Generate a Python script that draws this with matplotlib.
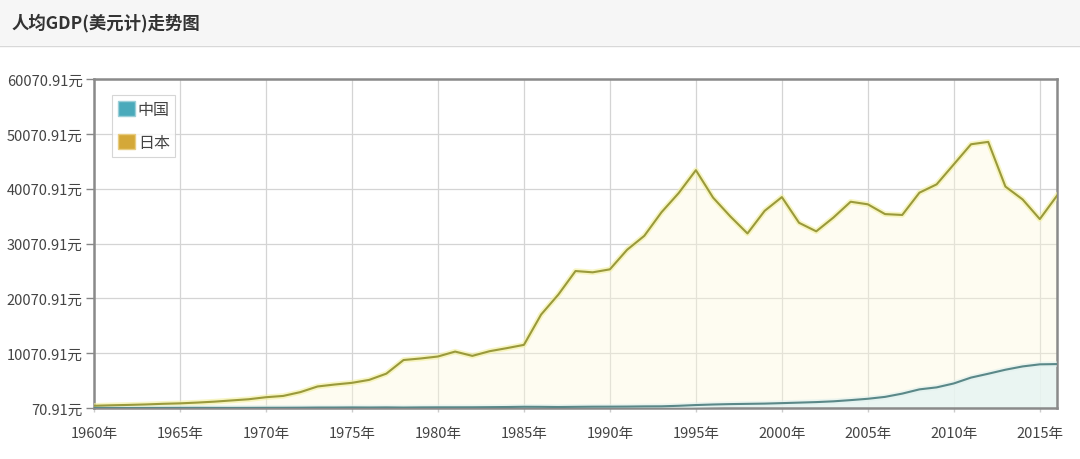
import matplotlib.pyplot as plt
from matplotlib.patches import Rectangle
from matplotlib.lines import Line2D

plt.rcParams['font.family'] = ['Noto Sans CJK SC', 'DejaVu Sans']

years = list(range(1960, 2017))

# GDP per capita, current US$
china = [89.5, 75.8, 70.9, 74.3, 85.5, 98.5, 104.3, 96.6, 91.5, 100.1,
         113.2, 118.7, 131.9, 157.1, 160.1, 178.3, 165.4, 185.4, 156.4, 183.9,
         194.8, 197.1, 203.3, 225.4, 250.7, 294.5, 281.9, 251.8, 283.5, 310.9,
         317.9, 333.1, 366.5, 377.4, 473.5, 609.7, 709.4, 781.7, 828.6, 873.3,
         959.4, 1053.1, 1148.5, 1288.6, 1508.7, 1753.4, 2099.2, 2694.0, 3468.3, 3832.2,
         4550.5, 5618.1, 6316.9, 7050.6, 7651.4, 8033.4, 8078.8]
japan = [479, 563, 633, 717, 835, 919, 1059, 1229, 1450, 1669,
         2037, 2272, 2967, 3997, 4354, 4659, 5198, 6335, 8821, 9105,
         9463, 10361, 9578, 10425, 10984, 11585, 17112, 20745, 25051, 24813,
         25359, 28925, 31465, 35766, 39269, 43440, 38437, 35022, 31903, 36027,
         38532, 33846, 32289, 34808, 37689, 37218, 35434, 35275, 39339, 40855,
         44508, 48168, 48603, 40454, 38109, 34524, 38794]

y_ticks = [70.91, 10070.91, 20070.91, 30070.91, 40070.91, 50070.91, 60070.91]
x_ticks = list(range(1960, 2016, 5))

title = '人均GDP(美元计)走势图'
series_names = ['中国', '日本']

fig = plt.figure(figsize=(10.8, 4.6), dpi=100)
fig.patch.set_facecolor('white')

# header band
fig.patches.append(Rectangle((0, 1 - 46 / 460), 1, 46 / 460, transform=fig.transFigure,
                             facecolor='#f6f6f6', edgecolor='none', zorder=0))
fig.lines.append(Line2D([0, 1], [1 - 47 / 460] * 2, transform=fig.transFigure,
                        color='#d8d8d8', lw=1))
fig.text(0.011, 1 - 23 / 460, title, fontsize=12.5, fontweight='bold', color='#333333',
         va='center', ha='left')

ax = fig.add_axes([94 / 1080, 1 - 409 / 460, (1057 - 94) / 1080, (409 - 80) / 460])
ax.set_facecolor('white')

base = y_ticks[0]
ax.fill_between(years, base, japan, color='#fdf9dc', alpha=0.4, lw=0, zorder=1)
ax.fill_between(years, base, china, color='#e6f4f3', alpha=0.8, lw=0, zorder=2)

ax.plot(years, japan, color='#f3ef9a', lw=4, alpha=0.6, zorder=3)
ax.plot(years, japan, color='#9a9a3c', lw=1.5, zorder=4)
ax.plot(years, china, color='#dff0ee', lw=4, alpha=0.6, zorder=3)
ax.plot(years, china, color='#5a8888', lw=1.5, zorder=4)

ax.set_xlim(1960, 2016)
ax.set_ylim(y_ticks[0], y_ticks[-1])
ax.set_yticks(y_ticks)
ax.set_yticklabels([f'{v:.2f}元' for v in y_ticks])
ax.set_xticks(x_ticks)
ax.set_xticklabels([f'{y}年' for y in x_ticks])
ax.grid(True, color='#d4d4d4', lw=0.9)
ax.set_axisbelow(True)
ax.tick_params(axis='both', colors='#888888', labelcolor='#444444', labelsize=10.5,
               length=6, width=1)
ax.tick_params(axis='x', pad=10, length=3, colors='#cccccc', labelcolor='#444444')
ax.tick_params(axis='y', pad=2)
for s in ax.spines.values():
    s.set_color('#8a8a8a')
    s.set_linewidth(1.8)

handles = [Rectangle((0, 0), 1, 1, facecolor='#4aaabb', edgecolor='#9ccfd8'),
           Rectangle((0, 0), 1, 1, facecolor='#d4a838', edgecolor='#e8cc80')]
leg = ax.legend(handles, series_names, loc='upper left', bbox_to_anchor=(0.019, 0.95),
                fontsize=11.5, frameon=True, fancybox=False, handlelength=1.1,
                handleheight=1.1, handletextpad=0.15, labelspacing=1.0,
                borderpad=0.35, borderaxespad=0)
leg.get_frame().set_edgecolor('#cccccc')
leg.get_frame().set_linewidth(0.8)
for t in leg.get_texts():
    t.set_color('#444444')

fig.savefig('out.png', dpi=100)
